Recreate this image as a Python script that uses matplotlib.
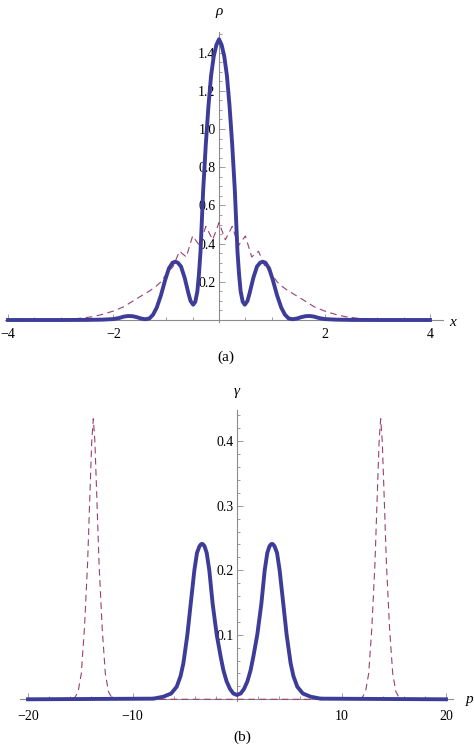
import matplotlib.pyplot as plt
from matplotlib.ticker import MultipleLocator, FixedLocator

plt.rcParams['font.family'] = 'serif'
plt.rcParams['font.serif'] = ['Liberation Serif', 'DejaVu Serif']

# panel (a): position density
xa_solid = [-4.0, -3.0, -2.5, -2.2, -2.0, -1.9, -1.8, -1.72, -1.64, -1.56, -1.48, -1.4,
            -1.32, -1.25, -1.18, -1.1, -1.02, -0.95, -0.88, -0.83, -0.78, -0.72, -0.65,
            -0.58, -0.54, -0.49, -0.45, -0.41, -0.38, -0.35, -0.3, -0.25, -0.2, -0.15, -0.1,
            -0.05, 0.0, 0.05, 0.1, 0.15, 0.2, 0.25, 0.3, 0.35, 0.38, 0.41, 0.45, 0.49, 0.54,
            0.58, 0.65, 0.72, 0.78, 0.83, 0.88, 0.95, 1.02, 1.1, 1.18, 1.25, 1.32, 1.4, 1.48,
            1.56, 1.64, 1.72, 1.8, 1.9, 2.0, 2.2, 2.5, 3.0, 4.0]
rho_solid = [0.0, 0.0, 0.0005, 0.002, 0.005, 0.01, 0.018, 0.021, 0.02, 0.015, 0.008, 0.004,
             0.008, 0.028, 0.065, 0.13, 0.21, 0.27, 0.3, 0.305, 0.3, 0.28, 0.22,
             0.14, 0.1, 0.08, 0.095, 0.15, 0.24, 0.36, 0.68, 0.92, 1.12, 1.28, 1.38,
             1.44, 1.47, 1.44, 1.38, 1.28, 1.12, 0.92, 0.68, 0.36, 0.24, 0.15, 0.095, 0.08, 0.1,
             0.14, 0.22, 0.28, 0.3, 0.305, 0.3, 0.27, 0.21, 0.13, 0.065, 0.028, 0.008, 0.004, 0.008,
             0.015, 0.02, 0.021, 0.018, 0.01, 0.005, 0.002, 0.0005, 0.0, 0.0]

xa_dash = [-4.0, -3.3, -3.0, -2.8, -2.6, -2.4, -2.2, -2.0, -1.8, -1.6, -1.45, -1.3, -1.2,
           -1.1, -1.0, -0.87, -0.75, -0.62, -0.5, -0.37, -0.25, -0.12, 0.0, 0.12, 0.25,
           0.37, 0.5, 0.62, 0.75, 0.87, 1.0, 1.1, 1.2, 1.3, 1.45, 1.6, 1.8, 2.0, 2.2, 2.4,
           2.6, 2.8, 3.0, 3.3, 4.0]
rho_dash = [0.0, 0.0, 0.002, 0.005, 0.01, 0.017, 0.03, 0.047, 0.07, 0.105, 0.13, 0.155, 0.175,
            0.2, 0.24, 0.28, 0.36, 0.33, 0.44, 0.39, 0.49, 0.42, 0.51, 0.42, 0.49,
            0.39, 0.44, 0.33, 0.36, 0.28, 0.24, 0.2, 0.175, 0.155, 0.13, 0.105, 0.07, 0.047, 0.03, 0.017,
            0.01, 0.005, 0.002, 0.0, 0.0]

# panel (b): momentum density
pb_solid = [-20.0, -8.0, -7.05, -6.3, -5.77, -5.4, -5.13, -4.75, -4.43, -4.08, -3.83, -3.6,
            -3.45, -3.35, -3.25, -3.1, -2.9, -2.65, -2.33, -1.94, -1.55, -1.3, -1.0, -0.67,
            -0.35, 0.0, 0.35, 0.67, 1.0, 1.3, 1.55, 1.94, 2.33, 2.65, 2.9, 3.1, 3.25, 3.35,
            3.45, 3.6, 3.83, 4.08, 4.43, 4.75, 5.13, 5.4, 5.77, 6.3, 7.05, 8.0, 20.0]
gam_solid = [0.0, 0.001, 0.004, 0.009, 0.0195, 0.036, 0.056, 0.1, 0.148, 0.2, 0.227, 0.237,
             0.2403, 0.241, 0.2403, 0.237, 0.227, 0.2, 0.148, 0.1, 0.065, 0.045, 0.028, 0.016,
             0.009, 0.0067, 0.009, 0.016, 0.028, 0.045, 0.065, 0.1, 0.148, 0.2, 0.227, 0.237, 0.2403, 0.241,
             0.2403, 0.237, 0.227, 0.2, 0.148, 0.1, 0.056, 0.036, 0.0195, 0.009, 0.004, 0.001, 0.0]

pb_dash = [-20.0, -16.0, -15.5, -15.2, -14.9, -14.6, -14.3, -14.05, -13.9, -13.75, -13.6,
           -13.45, -13.2, -12.9, -12.6, -12.3, -12.0, -11.5, 0.0, 11.5, 12.0, 12.3, 12.6,
           12.9, 13.2, 13.45, 13.6, 13.75, 13.9, 14.05, 14.3, 14.6, 14.9, 15.2, 15.5, 16.0, 20.0]
gam_dash = [0.0, 0.0, 0.003, 0.012, 0.04, 0.11, 0.21, 0.33, 0.4, 0.435, 0.4,
            0.33, 0.21, 0.11, 0.04, 0.012, 0.003, 0.0, 0.0, 0.0, 0.003, 0.012, 0.04,
            0.11, 0.21, 0.33, 0.4, 0.435, 0.4, 0.33, 0.21, 0.11, 0.04, 0.012, 0.003, 0.0, 0.0]

xa_ticks = [-4, -2, 2, 4]
xa_labels = ['\u22124', '\u22122', '2', '4']
ya_ticks = [0.2, 0.4, 0.6, 0.8, 1.0, 1.2, 1.4]
pb_ticks = [-20, -10, 10, 20]
pb_labels = ['\u221220', '\u221210', '10', '20']
yb_ticks = [0.1, 0.2, 0.3, 0.4]

blue = '#3d3d99'
purple = '#99406f'
axis_gray = '#8c8c8c'
W, H = 474, 747

fig = plt.figure(figsize=(W / 100, H / 100), dpi=100)


def make_axes(x0, y_zero, px_per_x, px_per_y, xlim, ylim, xpad):
    left = x0 + xlim[0] * px_per_x
    right = x0 + xlim[1] * px_per_x
    top = y_zero - ylim[1] * px_per_y
    bottom = y_zero - ylim[0] * px_per_y
    ax = fig.add_axes([left / W, 1 - bottom / H, (right - left) / W, (bottom - top) / H])
    ax.set_xlim(*xlim)
    ax.set_ylim(*ylim)
    for s in ['top', 'right']:
        ax.spines[s].set_visible(False)
    ax.spines['left'].set_position(('data', 0))
    ax.spines['bottom'].set_position(('data', 0))
    for s in ['left', 'bottom']:
        ax.spines[s].set_color(axis_gray)
        ax.spines[s].set_linewidth(0.8)
        ax.spines[s].set_zorder(1)
    ax.tick_params(which='both', direction='in', color=axis_gray, labelsize=10, width=0.6)
    ax.tick_params(which='major', length=4)
    ax.tick_params(which='minor', length=2.2)
    ax.tick_params(axis='y', pad=2.5)
    ax.tick_params(axis='x', pad=xpad)
    ax.patch.set_alpha(0)
    return ax


# (a)
ax1 = make_axes(219, 320, 52.75, 191, (-4.06, 4.25), (-0.01, 1.51), 5.5)
ax1.plot(xa_dash, rho_dash, color=purple, lw=0.8, ls=(0, (6, 4)), zorder=3, clip_on=False)
ax1.plot(xa_solid, rho_solid, color=blue, lw=2.8, zorder=4, clip_on=False,
         solid_joinstyle='round')
ax1.xaxis.set_major_locator(FixedLocator(xa_ticks))
ax1.set_xticklabels(xa_labels)
ax1.xaxis.set_minor_locator(MultipleLocator(0.5))
ax1.yaxis.set_major_locator(FixedLocator(ya_ticks))
ax1.set_yticklabels(['%.1f' % v for v in ya_ticks])
ax1.yaxis.set_minor_locator(MultipleLocator(0.05))
fig.text(219 / W, 1 - 12 / H, '\u03c1', ha='center', va='center', fontsize=11, style='italic')
fig.text(453 / W, 1 - 322 / H, 'x', ha='center', va='center', fontsize=11, style='italic')
fig.text(226 / W, 1 - 357 / H, '(a)', ha='center', va='center', fontsize=11)

# (b)
ax2 = make_axes(237, 699.3, 10.45, 645, (-20.8, 20.7), (-0.003, 0.449), 7.5)
ax2.plot(pb_dash, gam_dash, color=purple, lw=0.8, ls=(0, (6, 4)), zorder=3, clip_on=False)
ax2.plot(pb_solid, gam_solid, color=blue, lw=2.8, zorder=4, clip_on=False,
         solid_joinstyle='round')
ax2.xaxis.set_major_locator(FixedLocator(pb_ticks))
ax2.set_xticklabels(pb_labels)
ax2.xaxis.set_minor_locator(MultipleLocator(2))
ax2.yaxis.set_major_locator(FixedLocator(yb_ticks))
ax2.set_yticklabels(['%.1f' % v for v in yb_ticks])
ax2.yaxis.set_minor_locator(MultipleLocator(0.02))
fig.text(237 / W, 1 - 392 / H, '\u03b3', ha='center', va='center', fontsize=11, style='italic')
fig.text(470 / W, 1 - 700 / H, 'p', ha='center', va='center', fontsize=11, style='italic')
fig.text(242 / W, 1 - 737 / H, '(b)', ha='center', va='center', fontsize=11)

fig.savefig('out.png', dpi=100)
